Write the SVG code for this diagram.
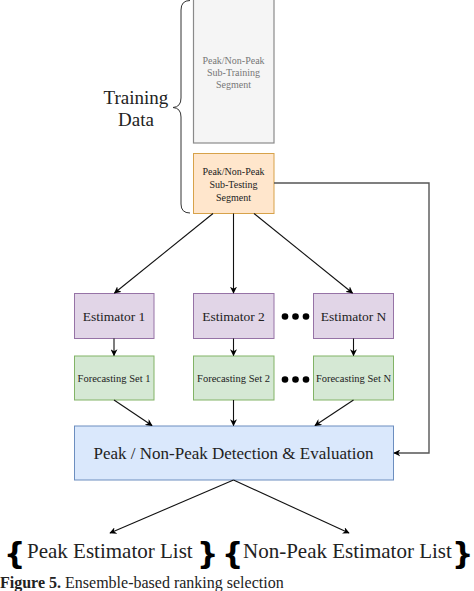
<svg xmlns="http://www.w3.org/2000/svg" width="474" height="591" viewBox="0 0 474 591" font-family="Liberation Serif, DejaVu Serif, serif">
<defs>
<marker id="ah" viewBox="0 0 10 10" refX="9" refY="5" markerWidth="7" markerHeight="7" orient="auto" markerUnits="userSpaceOnUse">
<path d="M0,0 L10,5 L0,10 L3,5 Z" fill="#000"/>
</marker>
</defs>
<style>
.t{fill:#222}
.c{text-anchor:middle}
.s{font-size:10px}
.m{font-size:13.5px}
.f{font-size:10.5px}
.g{fill:#777}
.edge{stroke:#111;stroke-width:1.1;fill:none;marker-end:url(#ah)}
.est rect{fill:#e1d5e7;stroke:#9673a6;stroke-width:1}
.fc rect{fill:#d5e8d4;stroke:#82b366;stroke-width:1}
.dot{fill:#000}
.br{font-weight:bold;font-size:30px;fill:#000}
</style>
<rect width="474" height="591" fill="#fff"/>

<g id="training-data">
<path d="M190,0.5 Q181,0.5 181,10 L181,98 Q181,107 173,107.5 Q181,108 181,117 L181,204 Q181,213 190,213" fill="none" stroke="#333" stroke-width="1"/>
<text class="t c" x="136" y="104" font-size="19">Training</text>
<text class="t c" x="136" y="126" font-size="19">Data</text>
</g>

<g id="sub-training">
<rect x="193.5" y="-2" width="80.5" height="145" fill="#f5f5f5" stroke="#8a8a8a" stroke-width="1.2"/>
<text class="t c s g" x="233.5" y="64">Peak/Non-Peak</text>
<text class="t c s g" x="233.5" y="76">Sub-Training</text>
<text class="t c s g" x="233.5" y="88">Segment</text>
</g>

<g id="sub-testing">
<rect x="193.5" y="153.5" width="80.5" height="60" fill="#ffe6cc" stroke="#d7a24a" stroke-width="1"/>
<text class="t c s" x="233.5" y="175">Peak/Non-Peak</text>
<text class="t c s" x="233.5" y="188">Sub-Testing</text>
<text class="t c s" x="233.5" y="201">Segment</text>
</g>

<g id="estimator-1" class="est">
<rect x="74.5" y="293.5" width="79.5" height="45"/>
<text class="t c m" x="114" y="321">Estimator 1</text>
</g>
<g id="estimator-2" class="est">
<rect x="193.5" y="293.5" width="80.5" height="45"/>
<text class="t c m" x="233.5" y="321">Estimator 2</text>
</g>
<g id="estimator-n" class="est">
<rect x="313.5" y="293.5" width="80" height="45"/>
<text class="t c m" x="353.5" y="321">Estimator N</text>
</g>
<g id="dots-1">
<circle class="dot" cx="285" cy="316.5" r="3.3"/>
<circle class="dot" cx="295.5" cy="316.5" r="3.3"/>
<circle class="dot" cx="306" cy="316.5" r="3.3"/>
</g>

<g id="forecast-1" class="fc">
<rect x="74.5" y="356" width="79.5" height="44"/>
<text class="t c f" x="114" y="382">Forecasting Set 1</text>
</g>
<g id="forecast-2" class="fc">
<rect x="193.5" y="356" width="80.5" height="44"/>
<text class="t c f" x="233.5" y="382">Forecasting Set 2</text>
</g>
<g id="forecast-n" class="fc">
<rect x="313.5" y="356" width="80" height="44"/>
<text class="t c f" x="353.5" y="382">Forecasting Set N</text>
</g>
<g id="dots-2">
<circle class="dot" cx="285" cy="379.5" r="3.3"/>
<circle class="dot" cx="295.5" cy="379.5" r="3.3"/>
<circle class="dot" cx="306" cy="379.5" r="3.3"/>
</g>

<g id="detection">
<rect x="74.5" y="426" width="319" height="54" fill="#dae8fc" stroke="#6c8ebf" stroke-width="1"/>
<text class="t c" x="233.5" y="459" font-size="17">Peak / Non-Peak Detection &amp; Evaluation</text>
</g>

<g id="peak-list">
<text class="br" x="4" y="564" font-family="DejaVu Sans, sans-serif">{</text>
<text class="t" x="27" y="558" font-size="21">Peak Estimator List</text>
<text class="br" x="197" y="564" font-family="DejaVu Sans, sans-serif">}</text>
</g>
<g id="nonpeak-list">
<text class="br" x="222" y="564" font-family="DejaVu Sans, sans-serif">{</text>
<text class="t" x="243" y="558" font-size="21">Non-Peak Estimator List</text>
<text class="br" x="452" y="564" font-family="DejaVu Sans, sans-serif">}</text>
</g>

<g id="caption">
<text class="t" x="0" y="588" font-size="16"><tspan font-weight="bold">Figure 5.</tspan> Ensemble-based ranking selection</text>
</g>

<g id="connectors">
<line class="edge" x1="213" y1="213.5" x2="114.5" y2="293"/>
<line class="edge" x1="233.5" y1="213.5" x2="233.5" y2="293"/>
<line class="edge" x1="254" y1="213.5" x2="352.5" y2="293"/>
<line class="edge" x1="114" y1="338.5" x2="114" y2="355.5"/>
<line class="edge" x1="233.5" y1="338.5" x2="233.5" y2="355.5"/>
<line class="edge" x1="353.5" y1="338.5" x2="353.5" y2="355.5"/>
<line class="edge" x1="114" y1="400" x2="152" y2="425.5"/>
<line class="edge" x1="233.5" y1="400" x2="233.5" y2="425.5"/>
<line class="edge" x1="353.5" y1="400" x2="315" y2="425.5"/>
<polyline class="edge" points="274,183 429,183 429,453 394,453" style="stroke:#555;stroke-width:1.4"/>
<line class="edge" x1="233.5" y1="480" x2="110" y2="533"/>
<line class="edge" x1="233.5" y1="480" x2="349" y2="533"/>
</g>
</svg>
